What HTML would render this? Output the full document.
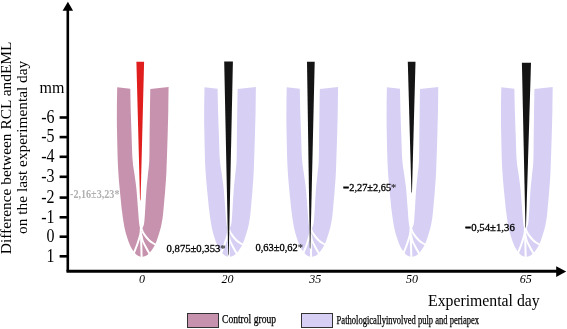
<!DOCTYPE html>
<html><head><meta charset="utf-8"><style>
html,body{margin:0;padding:0;background:#fff;width:567px;height:329px;overflow:hidden}
svg{display:block}
text{font-family:'Liberation Serif','Times New Roman',serif}
</style></head><body>
<svg width="567" height="329" viewBox="0 0 567 329">
<rect width="567" height="329" fill="#fff"/>
<g transform="translate(0,0)"><path d="M117.20,87.30 C117.15,91.08 116.93,102.88 116.90,110.00 C116.87,117.12 116.78,120.00 117.00,130.00 C117.22,140.00 117.57,158.33 118.20,170.00 C118.83,181.67 120.17,193.17 120.80,200.00 C121.43,206.83 121.55,207.33 122.00,211.00 C122.45,214.67 122.88,218.37 123.50,222.00 C124.12,225.63 124.72,229.17 125.70,232.80 C126.68,236.43 128.33,241.07 129.40,243.80 C130.47,246.53 131.18,247.68 132.10,249.20 C133.02,250.72 133.98,251.83 134.90,252.90 C135.82,253.97 136.58,254.92 137.60,255.60 C138.62,256.28 140.43,256.77 141.00,257.00 C141.63,256.88 143.60,256.77 144.80,256.30 C146.00,255.83 147.15,255.10 148.20,254.20 C149.25,253.30 150.17,252.10 151.10,250.90 C152.03,249.70 152.95,248.48 153.80,247.00 C154.65,245.52 155.40,244.00 156.20,242.00 C157.00,240.00 157.87,237.28 158.60,235.00 C159.33,232.72 160.05,230.47 160.60,228.30 C161.15,226.13 161.52,224.13 161.90,222.00 C162.28,219.87 162.53,218.70 162.90,215.50 C163.27,212.30 163.72,207.05 164.10,202.80 C164.48,198.55 164.80,195.47 165.20,190.00 C165.60,184.53 166.07,180.00 166.50,170.00 C166.93,160.00 167.50,140.00 167.80,130.00 C168.10,120.00 168.17,117.18 168.30,110.00 C168.43,102.82 168.55,90.75 168.60,86.90 L150.3,88.9 C150.23,93.25 150.02,107.32 149.90,115.00 C149.78,122.68 149.70,127.50 149.60,135.00 C149.50,142.50 149.58,153.33 149.30,160.00 C149.02,166.67 148.37,170.20 147.90,175.00 C147.43,179.80 146.93,183.35 146.50,188.80 C146.07,194.25 145.68,202.03 145.30,207.70 C144.92,213.37 144.65,219.42 144.20,222.80 C143.75,226.18 143.07,226.63 142.60,228.00 C142.13,229.37 141.60,230.50 141.40,231.00 C141.17,230.50 140.38,229.37 140.00,228.00 C139.62,226.63 139.45,226.18 139.10,222.80 C138.75,219.42 138.35,213.37 137.90,207.70 C137.45,202.03 136.95,194.25 136.40,188.80 C135.85,183.35 135.23,179.80 134.60,175.00 C133.97,170.20 133.10,166.67 132.60,160.00 C132.10,153.33 131.88,142.50 131.60,135.00 C131.32,127.50 131.12,122.71 130.90,115.00 C130.68,107.29 130.40,93.12 130.30,88.75 Z" fill="#c792ad"/><g stroke="#fff" stroke-width="2" fill="none" stroke-linecap="round"><path d="M140.80,229.00 C140.72,229.92 140.90,231.92 140.30,234.50 C139.70,237.08 138.32,241.32 137.20,244.50 C136.08,247.68 134.20,252.08 133.60,253.60"/><path d="M141.00,233.00 C141.05,235.00 141.20,240.92 141.30,245.00 C141.40,249.08 141.55,255.42 141.60,257.50"/><path d="M141.60,236.00 C141.77,236.75 141.87,238.58 142.60,240.50 C143.33,242.42 144.80,245.22 146.00,247.50 C147.20,249.78 149.17,253.08 149.80,254.20"/><path d="M141.80,229.50 C142.12,230.18 142.53,231.85 143.70,233.60 C144.87,235.35 147.15,238.35 148.80,240.00 C150.45,241.65 152.18,242.63 153.60,243.50 C155.02,244.37 156.68,244.92 157.30,245.20"/></g></g>
<path d="M136.4,61.8 L144.1,61.8 L140.60000000000002,199 L140.3,201 L140.0,199 Z" fill="#e01e1e"/>
<g transform="translate(87.3,0)"><path d="M117.20,87.30 C117.15,91.08 116.93,102.88 116.90,110.00 C116.87,117.12 116.78,120.00 117.00,130.00 C117.22,140.00 117.57,158.33 118.20,170.00 C118.83,181.67 120.17,193.17 120.80,200.00 C121.43,206.83 121.55,207.33 122.00,211.00 C122.45,214.67 122.88,218.37 123.50,222.00 C124.12,225.63 124.72,229.17 125.70,232.80 C126.68,236.43 128.33,241.07 129.40,243.80 C130.47,246.53 131.18,247.68 132.10,249.20 C133.02,250.72 133.98,251.83 134.90,252.90 C135.82,253.97 136.58,254.92 137.60,255.60 C138.62,256.28 140.43,256.77 141.00,257.00 C141.63,256.88 143.60,256.77 144.80,256.30 C146.00,255.83 147.15,255.10 148.20,254.20 C149.25,253.30 150.17,252.10 151.10,250.90 C152.03,249.70 152.95,248.48 153.80,247.00 C154.65,245.52 155.40,244.00 156.20,242.00 C157.00,240.00 157.87,237.28 158.60,235.00 C159.33,232.72 160.05,230.47 160.60,228.30 C161.15,226.13 161.52,224.13 161.90,222.00 C162.28,219.87 162.53,218.70 162.90,215.50 C163.27,212.30 163.72,207.05 164.10,202.80 C164.48,198.55 164.80,195.47 165.20,190.00 C165.60,184.53 166.07,180.00 166.50,170.00 C166.93,160.00 167.50,140.00 167.80,130.00 C168.10,120.00 168.17,117.18 168.30,110.00 C168.43,102.82 168.55,90.75 168.60,86.90 L150.3,88.9 C150.23,93.25 150.02,107.32 149.90,115.00 C149.78,122.68 149.70,127.50 149.60,135.00 C149.50,142.50 149.58,153.33 149.30,160.00 C149.02,166.67 148.37,170.20 147.90,175.00 C147.43,179.80 146.93,183.35 146.50,188.80 C146.07,194.25 145.68,202.03 145.30,207.70 C144.92,213.37 144.65,219.42 144.20,222.80 C143.75,226.18 143.07,226.63 142.60,228.00 C142.13,229.37 141.60,230.50 141.40,231.00 C141.17,230.50 140.38,229.37 140.00,228.00 C139.62,226.63 139.45,226.18 139.10,222.80 C138.75,219.42 138.35,213.37 137.90,207.70 C137.45,202.03 136.95,194.25 136.40,188.80 C135.85,183.35 135.23,179.80 134.60,175.00 C133.97,170.20 133.10,166.67 132.60,160.00 C132.10,153.33 131.88,142.50 131.60,135.00 C131.32,127.50 131.12,122.71 130.90,115.00 C130.68,107.29 130.40,93.12 130.30,88.75 Z" fill="#d7d0f4"/><g stroke="#fff" stroke-width="2" fill="none" stroke-linecap="round"><path d="M140.80,229.00 C140.72,229.92 140.90,231.92 140.30,234.50 C139.70,237.08 138.32,241.32 137.20,244.50 C136.08,247.68 134.20,252.08 133.60,253.60"/><path d="M141.00,233.00 C141.05,235.00 141.20,240.92 141.30,245.00 C141.40,249.08 141.55,255.42 141.60,257.50"/><path d="M141.60,236.00 C141.77,236.75 141.87,238.58 142.60,240.50 C143.33,242.42 144.80,245.22 146.00,247.50 C147.20,249.78 149.17,253.08 149.80,254.20"/><path d="M141.80,229.50 C142.12,230.18 142.53,231.85 143.70,233.60 C144.87,235.35 147.15,238.35 148.80,240.00 C150.45,241.65 152.18,242.63 153.60,243.50 C155.02,244.37 156.68,244.92 157.30,245.20"/></g></g>
<path d="M224.2,61.4 L232.9,61.4 L228.8,254 L228.5,256 L228.2,254 Z" fill="#141414"/>
<g transform="translate(169.5,0)"><path d="M117.20,87.30 C117.15,91.08 116.93,102.88 116.90,110.00 C116.87,117.12 116.78,120.00 117.00,130.00 C117.22,140.00 117.57,158.33 118.20,170.00 C118.83,181.67 120.17,193.17 120.80,200.00 C121.43,206.83 121.55,207.33 122.00,211.00 C122.45,214.67 122.88,218.37 123.50,222.00 C124.12,225.63 124.72,229.17 125.70,232.80 C126.68,236.43 128.33,241.07 129.40,243.80 C130.47,246.53 131.18,247.68 132.10,249.20 C133.02,250.72 133.98,251.83 134.90,252.90 C135.82,253.97 136.58,254.92 137.60,255.60 C138.62,256.28 140.43,256.77 141.00,257.00 C141.63,256.88 143.60,256.77 144.80,256.30 C146.00,255.83 147.15,255.10 148.20,254.20 C149.25,253.30 150.17,252.10 151.10,250.90 C152.03,249.70 152.95,248.48 153.80,247.00 C154.65,245.52 155.40,244.00 156.20,242.00 C157.00,240.00 157.87,237.28 158.60,235.00 C159.33,232.72 160.05,230.47 160.60,228.30 C161.15,226.13 161.52,224.13 161.90,222.00 C162.28,219.87 162.53,218.70 162.90,215.50 C163.27,212.30 163.72,207.05 164.10,202.80 C164.48,198.55 164.80,195.47 165.20,190.00 C165.60,184.53 166.07,180.00 166.50,170.00 C166.93,160.00 167.50,140.00 167.80,130.00 C168.10,120.00 168.17,117.18 168.30,110.00 C168.43,102.82 168.55,90.75 168.60,86.90 L150.3,88.9 C150.23,93.25 150.02,107.32 149.90,115.00 C149.78,122.68 149.70,127.50 149.60,135.00 C149.50,142.50 149.58,153.33 149.30,160.00 C149.02,166.67 148.37,170.20 147.90,175.00 C147.43,179.80 146.93,183.35 146.50,188.80 C146.07,194.25 145.68,202.03 145.30,207.70 C144.92,213.37 144.65,219.42 144.20,222.80 C143.75,226.18 143.07,226.63 142.60,228.00 C142.13,229.37 141.60,230.50 141.40,231.00 C141.17,230.50 140.38,229.37 140.00,228.00 C139.62,226.63 139.45,226.18 139.10,222.80 C138.75,219.42 138.35,213.37 137.90,207.70 C137.45,202.03 136.95,194.25 136.40,188.80 C135.85,183.35 135.23,179.80 134.60,175.00 C133.97,170.20 133.10,166.67 132.60,160.00 C132.10,153.33 131.88,142.50 131.60,135.00 C131.32,127.50 131.12,122.71 130.90,115.00 C130.68,107.29 130.40,93.12 130.30,88.75 Z" fill="#d7d0f4"/><g stroke="#fff" stroke-width="2" fill="none" stroke-linecap="round"><path d="M140.80,229.00 C140.72,229.92 140.90,231.92 140.30,234.50 C139.70,237.08 138.32,241.32 137.20,244.50 C136.08,247.68 134.20,252.08 133.60,253.60"/><path d="M141.00,233.00 C141.05,235.00 141.20,240.92 141.30,245.00 C141.40,249.08 141.55,255.42 141.60,257.50"/><path d="M141.60,236.00 C141.77,236.75 141.87,238.58 142.60,240.50 C143.33,242.42 144.80,245.22 146.00,247.50 C147.20,249.78 149.17,253.08 149.80,254.20"/><path d="M141.80,229.50 C142.12,230.18 142.53,231.85 143.70,233.60 C144.87,235.35 147.15,238.35 148.80,240.00 C150.45,241.65 152.18,242.63 153.60,243.50 C155.02,244.37 156.68,244.92 157.30,245.20"/></g></g>
<path d="M307.0,61.7 L314.7,61.7 L310.40000000000003,247.3 L310.1,249.3 L309.8,247.3 Z" fill="#141414"/>
<g transform="translate(269.7,0)"><path d="M117.20,87.30 C117.15,91.08 116.93,102.88 116.90,110.00 C116.87,117.12 116.78,120.00 117.00,130.00 C117.22,140.00 117.57,158.33 118.20,170.00 C118.83,181.67 120.17,193.17 120.80,200.00 C121.43,206.83 121.55,207.33 122.00,211.00 C122.45,214.67 122.88,218.37 123.50,222.00 C124.12,225.63 124.72,229.17 125.70,232.80 C126.68,236.43 128.33,241.07 129.40,243.80 C130.47,246.53 131.18,247.68 132.10,249.20 C133.02,250.72 133.98,251.83 134.90,252.90 C135.82,253.97 136.58,254.92 137.60,255.60 C138.62,256.28 140.43,256.77 141.00,257.00 C141.63,256.88 143.60,256.77 144.80,256.30 C146.00,255.83 147.15,255.10 148.20,254.20 C149.25,253.30 150.17,252.10 151.10,250.90 C152.03,249.70 152.95,248.48 153.80,247.00 C154.65,245.52 155.40,244.00 156.20,242.00 C157.00,240.00 157.87,237.28 158.60,235.00 C159.33,232.72 160.05,230.47 160.60,228.30 C161.15,226.13 161.52,224.13 161.90,222.00 C162.28,219.87 162.53,218.70 162.90,215.50 C163.27,212.30 163.72,207.05 164.10,202.80 C164.48,198.55 164.80,195.47 165.20,190.00 C165.60,184.53 166.07,180.00 166.50,170.00 C166.93,160.00 167.50,140.00 167.80,130.00 C168.10,120.00 168.17,117.18 168.30,110.00 C168.43,102.82 168.55,90.75 168.60,86.90 L150.3,88.9 C150.23,93.25 150.02,107.32 149.90,115.00 C149.78,122.68 149.70,127.50 149.60,135.00 C149.50,142.50 149.58,153.33 149.30,160.00 C149.02,166.67 148.37,170.20 147.90,175.00 C147.43,179.80 146.93,183.35 146.50,188.80 C146.07,194.25 145.68,202.03 145.30,207.70 C144.92,213.37 144.65,219.42 144.20,222.80 C143.75,226.18 143.07,226.63 142.60,228.00 C142.13,229.37 141.60,230.50 141.40,231.00 C141.17,230.50 140.38,229.37 140.00,228.00 C139.62,226.63 139.45,226.18 139.10,222.80 C138.75,219.42 138.35,213.37 137.90,207.70 C137.45,202.03 136.95,194.25 136.40,188.80 C135.85,183.35 135.23,179.80 134.60,175.00 C133.97,170.20 133.10,166.67 132.60,160.00 C132.10,153.33 131.88,142.50 131.60,135.00 C131.32,127.50 131.12,122.71 130.90,115.00 C130.68,107.29 130.40,93.12 130.30,88.75 Z" fill="#d7d0f4"/><g stroke="#fff" stroke-width="2" fill="none" stroke-linecap="round"><path d="M140.80,229.00 C140.72,229.92 140.90,231.92 140.30,234.50 C139.70,237.08 138.32,241.32 137.20,244.50 C136.08,247.68 134.20,252.08 133.60,253.60"/><path d="M141.00,233.00 C141.05,235.00 141.20,240.92 141.30,245.00 C141.40,249.08 141.55,255.42 141.60,257.50"/><path d="M141.60,236.00 C141.77,236.75 141.87,238.58 142.60,240.50 C143.33,242.42 144.80,245.22 146.00,247.50 C147.20,249.78 149.17,253.08 149.80,254.20"/><path d="M141.80,229.50 C142.12,230.18 142.53,231.85 143.70,233.60 C144.87,235.35 147.15,238.35 148.80,240.00 C150.45,241.65 152.18,242.63 153.60,243.50 C155.02,244.37 156.68,244.92 157.30,245.20"/></g></g>
<path d="M407.8,61.7 L415.5,61.7 L412.0,191.6 L411.7,193.6 L411.4,191.6 Z" fill="#141414"/>
<g transform="translate(384.1,0)"><path d="M117.20,87.30 C117.15,91.08 116.93,102.88 116.90,110.00 C116.87,117.12 116.78,120.00 117.00,130.00 C117.22,140.00 117.57,158.33 118.20,170.00 C118.83,181.67 120.17,193.17 120.80,200.00 C121.43,206.83 121.55,207.33 122.00,211.00 C122.45,214.67 122.88,218.37 123.50,222.00 C124.12,225.63 124.72,229.17 125.70,232.80 C126.68,236.43 128.33,241.07 129.40,243.80 C130.47,246.53 131.18,247.68 132.10,249.20 C133.02,250.72 133.98,251.83 134.90,252.90 C135.82,253.97 136.58,254.92 137.60,255.60 C138.62,256.28 140.43,256.77 141.00,257.00 C141.63,256.88 143.60,256.77 144.80,256.30 C146.00,255.83 147.15,255.10 148.20,254.20 C149.25,253.30 150.17,252.10 151.10,250.90 C152.03,249.70 152.95,248.48 153.80,247.00 C154.65,245.52 155.40,244.00 156.20,242.00 C157.00,240.00 157.87,237.28 158.60,235.00 C159.33,232.72 160.05,230.47 160.60,228.30 C161.15,226.13 161.52,224.13 161.90,222.00 C162.28,219.87 162.53,218.70 162.90,215.50 C163.27,212.30 163.72,207.05 164.10,202.80 C164.48,198.55 164.80,195.47 165.20,190.00 C165.60,184.53 166.07,180.00 166.50,170.00 C166.93,160.00 167.50,140.00 167.80,130.00 C168.10,120.00 168.17,117.18 168.30,110.00 C168.43,102.82 168.55,90.75 168.60,86.90 L150.3,88.9 C150.23,93.25 150.02,107.32 149.90,115.00 C149.78,122.68 149.70,127.50 149.60,135.00 C149.50,142.50 149.58,153.33 149.30,160.00 C149.02,166.67 148.37,170.20 147.90,175.00 C147.43,179.80 146.93,183.35 146.50,188.80 C146.07,194.25 145.68,202.03 145.30,207.70 C144.92,213.37 144.65,219.42 144.20,222.80 C143.75,226.18 143.07,226.63 142.60,228.00 C142.13,229.37 141.60,230.50 141.40,231.00 C141.17,230.50 140.38,229.37 140.00,228.00 C139.62,226.63 139.45,226.18 139.10,222.80 C138.75,219.42 138.35,213.37 137.90,207.70 C137.45,202.03 136.95,194.25 136.40,188.80 C135.85,183.35 135.23,179.80 134.60,175.00 C133.97,170.20 133.10,166.67 132.60,160.00 C132.10,153.33 131.88,142.50 131.60,135.00 C131.32,127.50 131.12,122.71 130.90,115.00 C130.68,107.29 130.40,93.12 130.30,88.75 Z" fill="#d7d0f4"/><g stroke="#fff" stroke-width="2" fill="none" stroke-linecap="round"><path d="M140.80,229.00 C140.72,229.92 140.90,231.92 140.30,234.50 C139.70,237.08 138.32,241.32 137.20,244.50 C136.08,247.68 134.20,252.08 133.60,253.60"/><path d="M141.00,233.00 C141.05,235.00 141.20,240.92 141.30,245.00 C141.40,249.08 141.55,255.42 141.60,257.50"/><path d="M141.60,236.00 C141.77,236.75 141.87,238.58 142.60,240.50 C143.33,242.42 144.80,245.22 146.00,247.50 C147.20,249.78 149.17,253.08 149.80,254.20"/><path d="M141.80,229.50 C142.12,230.18 142.53,231.85 143.70,233.60 C144.87,235.35 147.15,238.35 148.80,240.00 C150.45,241.65 152.18,242.63 153.60,243.50 C155.02,244.37 156.68,244.92 157.30,245.20"/></g></g>
<path d="M521.9,62.7 L531.0,62.7 L526.0,226.6 L525.7,228.6 L525.4000000000001,226.6 Z" fill="#141414"/>

<g stroke="#000" stroke-width="2.6" fill="none">
<line x1="67.8" y1="9" x2="67.8" y2="271.5"/>
<line x1="66.5" y1="271.2" x2="557" y2="271.2" stroke-width="2.9"/>
<line x1="59.6" y1="117.5" x2="68" y2="117.5"/>
<line x1="59.6" y1="137.1" x2="68" y2="137.1"/>
<line x1="59.6" y1="156.8" x2="68" y2="156.8"/>
<line x1="59.6" y1="176.8" x2="68" y2="176.8"/>
<line x1="59.6" y1="197.6" x2="68" y2="197.6"/>
<line x1="59.6" y1="217.3" x2="68" y2="217.3"/>
<line x1="59.6" y1="236.7" x2="68" y2="236.7"/>
<line x1="59.6" y1="256.3" x2="68" y2="256.3"/>
</g>
<path d="M67.9,1.7 L73.1,10.8 L62.6,10.8 Z" fill="#000"/>
<path d="M566.2,271.5 L556.2,266.2 L556.2,276.9 Z" fill="#000"/>
<g font-size="16" fill="#000">
<text x="39.6" y="93.2" font-size="16">mm</text>
<text transform="translate(54.6,122.7) scale(1,1.15)" text-anchor="end">-6</text>
<text transform="translate(54.6,142.3) scale(1,1.15)" text-anchor="end">-5</text>
<text transform="translate(54.6,162.0) scale(1,1.15)" text-anchor="end">-4</text>
<text transform="translate(54.6,182.0) scale(1,1.15)" text-anchor="end">-3</text>
<text transform="translate(54.6,202.8) scale(1,1.15)" text-anchor="end">-2</text>
<text transform="translate(54.6,222.5) scale(1,1.15)" text-anchor="end">-1</text>
<text transform="translate(54.6,241.9) scale(1,1.15)" text-anchor="end">0</text>
<text transform="translate(54.6,261.5) scale(1,1.15)" text-anchor="end">1</text>
</g>
<g font-size="14.2" fill="#000">
<text transform="translate(11.3,254.2) rotate(-90)" textLength="212.6" lengthAdjust="spacingAndGlyphs">Difference between RCL andEML</text>
<text transform="translate(26.7,233.9) rotate(-90)" textLength="173.2" lengthAdjust="spacingAndGlyphs">on the last experimental day</text>
</g>
<g font-size="12" font-style="italic" fill="#000" text-anchor="middle">
<text x="142" y="282.9">0</text>
<text x="227.4" y="282.9">20</text>
<text x="315.3" y="282.9">35</text>
<text x="412" y="282.9">50</text>
<text x="525.7" y="282.9">65</text>
</g>
<text x="428" y="305.6" font-size="15.8" textLength="111.7" lengthAdjust="spacingAndGlyphs">Experimental day</text>
<g font-size="10.5" stroke="currentColor" stroke-width="0.3">
<text x="70" y="198.2" font-size="12" fill="#b0b0b0" stroke="none" font-weight="bold" textLength="49.5" lengthAdjust="spacingAndGlyphs">-2,16±3,23*</text>
<text x="166.6" y="251.6" font-size="10.5" textLength="59" lengthAdjust="spacingAndGlyphs">0,875±0,353<tspan fill="#333" stroke="#333" stroke-width="0.15">*</tspan></text>
<text x="255.5" y="251" font-size="10.2" textLength="47.5" lengthAdjust="spacingAndGlyphs">0,63±0,62<tspan fill="#333" stroke="#333" stroke-width="0.15">*</tspan></text>
<text x="343.2" y="191.3" font-size="13" font-weight="bold" stroke="#000" stroke-width="0.9" textLength="5.6" lengthAdjust="spacingAndGlyphs">-</text>
<text x="349.3" y="191.3" font-size="10" textLength="47" lengthAdjust="spacingAndGlyphs">2,27±2,65<tspan fill="#333" stroke="#333" stroke-width="0.15">*</tspan></text>
<text x="465.2" y="230.8" font-size="13" font-weight="bold" stroke="#000" stroke-width="0.9" textLength="5.6" lengthAdjust="spacingAndGlyphs">-</text>
<text x="471.3" y="230.8" font-size="10" textLength="43.5" lengthAdjust="spacingAndGlyphs">0,54±1,36</text>
</g>
<rect x="187.5" y="313.5" width="31" height="14" fill="#c792ad" stroke="#333" stroke-width="1"/>
<rect x="301.5" y="313.5" width="31" height="14" fill="#d7d0f4" stroke="#333" stroke-width="1"/>
<g font-size="11.5" stroke="#000" stroke-width="0.25">
<text x="222" y="322.9" textLength="54" lengthAdjust="spacingAndGlyphs">Control group</text>
<text x="336.6" y="323.5" textLength="142.5" lengthAdjust="spacingAndGlyphs">Pathologicallyinvolved pulp and periapex</text>
</g>
</svg>
</body></html>
